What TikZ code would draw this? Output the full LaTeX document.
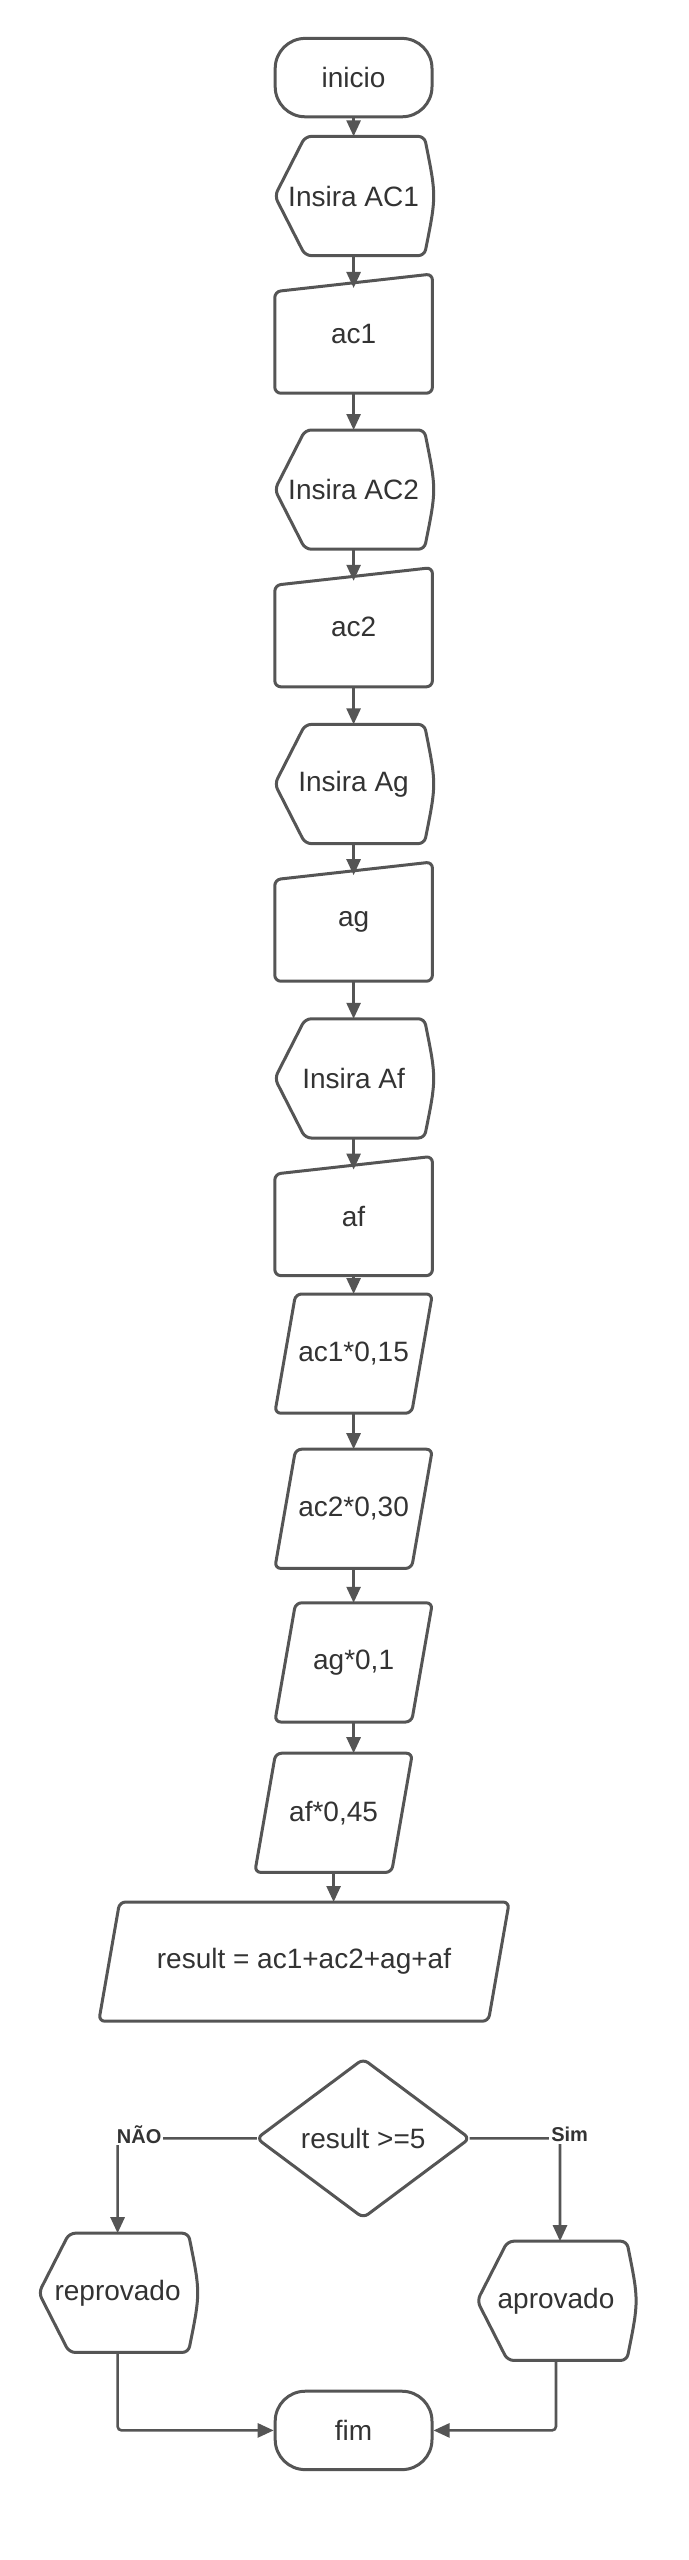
\documentclass[tikz,border=0pt]{standalone}
\usepackage{fontspec}
\setmainfont{Liberation Sans}
\usetikzlibrary{arrows.meta}
\definecolor{ln}{HTML}{555555}
\definecolor{tx}{HTML}{333333}
\begin{document}
\begin{tikzpicture}[x=0.8pt,y=-0.8pt,
  box/.style={minimum width=78.4pt,minimum height=59.2pt,inner sep=0pt,text=tx,font=\fontsize{14}{16}\selectfont},
  outl/.style={draw=ln,line width=1.5pt,line join=round,rounded corners=3pt},
  arr/.style={draw=ln,line width=1.3pt,-{Triangle[length=8pt,width=7pt]}},
  lbl/.style={fill=white,inner sep=1pt,text=tx,font=\bfseries\fontsize{10}{12}\selectfont}]
\useasboundingbox[fill=white] (0,0) rectangle (430,1600);
\newcommand{\dispshape}[3]{% name, center, text
  \node[box] (#1) at (#2) {#3};
  \draw[outl] ([xshift=0]#1.west) -- ([xshift=15.2pt]#1.north west) -- ([xshift=-4pt]#1.north east)
    .. controls ([xshift=2pt]#1.east) .. ([xshift=-4pt]#1.south east) -- ([xshift=15.2pt]#1.south west) -- cycle;}
\newcommand{\manshape}[3]{%
  \node[box] (#1) at (#2) {#3};
  \draw[outl] ([yshift=-8.8pt]#1.north west) -- (#1.north east) -- (#1.south east) -- (#1.south west) -- cycle;}
\newcommand{\parashape}[3]{%
  \node[box] (#1) at (#2) {#3};
  \draw[outl] ([xshift=10.4pt]#1.north west) -- (#1.north east) -- ([xshift=-10.4pt]#1.south east) -- (#1.south west) -- cycle;}
% terminals
\node[box,minimum height=39.2pt,draw=ln,line width=1.5pt,rounded corners=15pt] (ini) at (221,48.5) {inicio};
\dispshape{d1}{221,122.5}{Insira AC1}
\manshape{m1}{221,208.5}{ac1}
\dispshape{d2}{221,306}{Insira AC2}
\manshape{m2}{221,392}{ac2}
\dispshape{d3}{221,490}{Insira Ag}
\manshape{m3}{221,576}{ag}
\dispshape{d4}{221,674}{Insira Af}
\manshape{m4}{221,760}{af}
\parashape{p1}{221,846}{ac1*0,15}
\parashape{p2}{221,943}{ac2*0,30}
\parashape{p3}{221,1039}{ag*0,1}
\parashape{p4}{208.5,1133}{af*0,45}
\node[box,minimum width=204.8pt] (res) at (190,1226) {result = ac1+ac2+ag+af};
\draw[outl] ([xshift=10.4pt]res.north west) -- (res.north east) -- ([xshift=-10.4pt]res.south east) -- (res.south west) -- cycle;
\node[box,minimum width=106pt,minimum height=79pt] (dec) at (227,1336.5) {result >=5};
\draw[outl] (dec.west) -- (dec.north) -- (dec.east) -- (dec.south) -- cycle;
\dispshape{rep}{73.5,1433}{reprovado}
\dispshape{apr}{347.5,1438}{aprovado}
\node[box,minimum height=39.2pt,draw=ln,line width=1.5pt,rounded corners=15pt] (fim) at (221,1519) {fim};
% connectors
\draw[arr] (ini) -- (d1);
\draw[arr] (d1) -- (221,180);
\draw[arr] (m1) -- (d2);
\draw[arr] (d2) -- (221,363);
\draw[arr] (m2) -- (d3);
\draw[arr] (d3) -- (221,547);
\draw[arr] (m3) -- (d4);
\draw[arr] (d4) -- (221,731);
\draw[arr] (m4) -- (p1);
\draw[arr] (p1) -- (p2);
\draw[arr] (p2) -- (p3);
\draw[arr] (p3.south) -- (p3.south |- p4.north);
\draw[arr] (p4.south) -- (p4.south |- res.north);
\coordinate (cl) at (73.5,1336.5);
\coordinate (cr) at (350,1336.5);
\draw[arr,rounded corners=2pt] (dec.west) -- (cl) -- (rep.north);
\node[lbl] at (87,1334) {NÃO};
\draw[arr,rounded corners=2pt] (dec.east) -- (cr) -- (cr |- apr.north);
\node[lbl] at (356,1334) {Sim};
\draw[arr,rounded corners=2pt] (rep.south) -- (rep.south |- fim.west) -- (fim.west);
\draw[arr,rounded corners=2pt] (apr.south) -- (apr.south |- fim.east) -- (fim.east);
\end{tikzpicture}
\end{document}
